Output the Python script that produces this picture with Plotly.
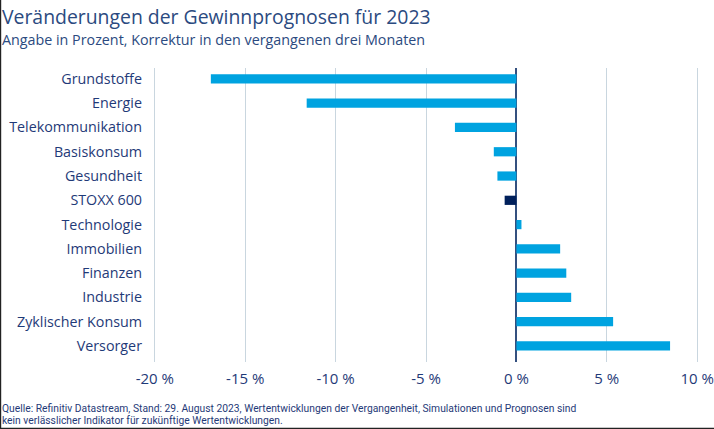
import plotly.graph_objects as go

categories = ["Grundstoffe", "Energie", "Telekommunikation", "Basiskonsum", "Gesundheit",
              "STOXX 600", "Technologie", "Immobilien", "Finanzen", "Industrie",
              "Zyklischer Konsum", "Versorger"]
values = [-16.9, -11.6, -3.4, -1.25, -1.05, -0.65, 0.28, 2.42, 2.76, 3.03, 5.35, 8.5]
tick_vals = [-20, -15, -10, -5, 0, 5, 10]
tick_text = ["-20 %", "-15 %", "-10 %", "-5 %", "0 %", "5 %", "10 %"]

LIGHT = "#00A3E0"
DARK = "#00205B"
NAVY = "#1F3A78"
colors = [DARK if c == "STOXX 600" else LIGHT for c in categories]

fig = go.Figure(go.Bar(
    x=values, y=categories, orientation="h",
    marker=dict(color=colors, line=dict(width=0)),
    width=0.38,
))

W, H = 714, 429
L, R, T, B = 153, 15, 68, 67
pw, ph = W - L - R, H - T - B

def px(x):
    return (x - L) / pw

def py(y):
    return (H - B - y) / ph

fig.update_layout(
    width=W, height=H,
    margin=dict(l=L, r=R, t=T, b=B, autoexpand=False),
    paper_bgcolor="white", plot_bgcolor="white",
    showlegend=False,
    font=dict(family="Open Sans", color=NAVY),
    xaxis=dict(
        range=[-20.1, 10.1], tickvals=tick_vals, ticktext=tick_text,
        showgrid=True, gridcolor="#C9D6DF", gridwidth=1,
        zeroline=True, zerolinecolor="#34507F", zerolinewidth=1.6,
        tickfont=dict(family="Open Sans", size=15, color=NAVY),
        ticklabelstandoff=6, showline=False, fixedrange=True, automargin=False,
    ),
    yaxis=dict(
        type="category", categoryorder="array", categoryarray=categories,
        range=[11.66, -0.45],
        showgrid=False, zeroline=False, showline=False,
        tickfont=dict(family="Open Sans", size=14.3, color=NAVY),
        ticklabelstandoff=10, automargin=False, fixedrange=True,
    ),
    annotations=[
        dict(text="Veränderungen der Gewinnprognosen für 2023", xref="paper", yref="paper",
             x=px(0), y=py(17), xanchor="left", yanchor="middle", showarrow=False,
             font=dict(family="Open Sans", size=19.4, color="#2B4A80")),
        dict(text="Angabe in Prozent, Korrektur in den vergangenen drei Monaten", xref="paper", yref="paper",
             x=px(0), y=py(40), xanchor="left", yanchor="middle", showarrow=False,
             font=dict(family="Open Sans", size=14.3, color="#2B4A80")),
        dict(text="Quelle: Refinitiv Datastream, Stand: 29. August 2023, Wertentwicklungen der Vergangenheit, Simulationen und Prognosen sind",
             xref="paper", yref="paper", x=px(0), y=py(408), xanchor="left", yanchor="middle",
             showarrow=False, font=dict(family="Roboto", size=10.3, color=NAVY)),
        dict(text="kein verlässlicher Indikator für zukünftige Wertentwicklungen.",
             xref="paper", yref="paper", x=px(0), y=py(420), xanchor="left", yanchor="middle",
             showarrow=False, font=dict(family="Roboto", size=10.3, color=NAVY)),
    ],
    shapes=[
        dict(type="line", xref="paper", yref="paper", x0=px(0.6), x1=px(0.6), y0=py(0), y1=py(429),
             line=dict(color="#222222", width=1.2)),
        dict(type="line", xref="paper", yref="paper", x0=px(0), x1=px(714), y0=py(428.4), y1=py(428.4),
             line=dict(color="#222222", width=1.2)),
    ],
)

fig.write_html("out.html", config={"displayModeBar": False},
               post_script="document.body.style.margin='0';document.body.style.overflow='hidden';")
